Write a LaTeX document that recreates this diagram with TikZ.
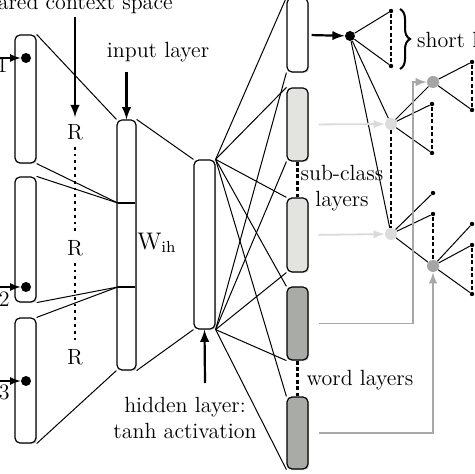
\documentclass[tikz,border=0pt]{standalone}
\usepackage{tikz}
\usetikzlibrary{shapes}
\usetikzlibrary{arrows}
\usetikzlibrary{shadows}
\usetikzlibrary{decorations.pathreplacing}

\definecolor{subgray}{HTML}{E3E4E0}
\definecolor{wordgray}{HTML}{A9ACA6}
\definecolor{lightarrow}{HTML}{DADADA}
\definecolor{midarrow}{HTML}{A8A8A8}
\definecolor{subnode}{HTML}{DCDCDC}
\definecolor{wordnode}{HTML}{A5A5A5}

\begin{document}
\begin{tikzpicture}[x=0.5pt,y=-0.5pt]
	\tikzstyle{every node}=[font=\fontsize{11}{13}\selectfont]
	\tikzstyle{layer}=[draw,fill=white,rectangle,rounded corners=2.5pt,minimum width=10.5pt,inner sep=0pt,line width=0.6pt,drop shadow={shadow xshift=0.6pt,shadow yshift=-0.6pt,opacity=0.3}]
	\tikzstyle{dot}=[circle,fill=black,inner sep=0pt,minimum size=2.2pt]
	\tikzstyle{bigdot}=[circle,fill=black,inner sep=0pt,minimum size=5pt]
	\tikzstyle{conn}=[line width=0.5pt]
	\tikzstyle{arr}=[-latex,line width=1.1pt]
	\tikzstyle{dashline}=[line width=1.1pt,dash pattern=on 2pt off 1.2pt]
	\useasboundingbox (0,0) rectangle (474,474);

	% context layers
	\node[layer,minimum height=64pt] (ctx1) at (25.5,99) {};
	\node[layer,minimum height=62.5pt] (ctx2) at (25.5,239.5) {};
	\node[layer,minimum height=62.5pt] (ctx3) at (25.5,380.5) {};
	\node[bigdot] (cdot1) at (26,58) {};
	\node[bigdot] (cdot2) at (26,287) {};
	\node[bigdot] (cdot3) at (26,381) {};
	\coordinate (cin1) at (-12,58);
	\coordinate (cin2) at (-12,287);
	\coordinate (cin3) at (-12,381);
	\draw[-latex,line width=0.8pt] (cin1) -- (cdot1);
	\draw[-latex,line width=0.8pt] (cin2) -- (cdot2);
	\draw[-latex,line width=0.8pt] (cin3) -- (cdot3);
	\node[anchor=east,inner sep=0pt] (lab1) at (8,65) {1};
	\node[anchor=east,inner sep=0pt] (lab2) at (10,299) {2};
	\node[anchor=east,inner sep=0pt] (lab3) at (10,392) {3};

	% shared context space
	\node (ctxtitle) at (75,4) {shared context space};
	\coordinate (ctxarrow) at (75,17);
	\node (r1) at (75,132) {R};
	\node (r2) at (75,248) {R};
	\node (r3) at (75,357) {R};
	\draw[arr] (ctxarrow) -- (r1.north);
	\draw[dotted,line width=1.4pt] (r1.south) -- (r2.north);
	\draw[dotted,line width=1.4pt] (r2.south) -- (r3.north);

	% input layer
	\node[layer,minimum width=9.5pt,minimum height=125pt] (input) at (126.5,245) {};
	\coordinate (d1w) at (117.75,203);
	\coordinate (d1e) at (135.25,203);
	\coordinate (d2w) at (117.75,287);
	\coordinate (d2e) at (135.25,287);
	\draw[line width=0.6pt] (d1w) -- (d1e);
	\draw[line width=0.6pt] (d2w) -- (d2e);
	\node (inlabel) at (158,52) {input layer};
	\coordinate (inarrow) at (126.5,72);
	\draw[arr] (inarrow) -- (input.north);

	\draw[conn] (ctx1.north east) -- (input.north west);
	\draw[conn] (ctx1.south east) -- (d1w);
	\draw[conn] (ctx2.north east) -- (d1w);
	\draw[conn] (ctx2.south east) -- (d2w);
	\draw[conn] (ctx3.north east) -- (d2w);
	\draw[conn] (ctx3.south east) -- (input.south west);

	% hidden layer
	\node[layer,minimum height=84.5pt] (hidden) at (204.5,244.5) {};
	\draw[conn] (input.north east) -- (hidden.north west);
	\draw[conn] (input.south east) -- (hidden.south west);
	\node[font=\fontsize{12}{14}\selectfont] (wih) at (157,243) {W\textsubscript{ih}};
	\node[align=center] (hidlabel) at (185,418) {hidden layer:\\tanh activation};
	\coordinate (hidarrow) at (205,383);
	\draw[arr] (hidarrow) -- (hidden.south);

	% output layers
	\node[layer,fill=white,minimum height=37pt] (short) at (297.5,35) {};
	\node[layer,fill=subgray,minimum height=36.5pt] (subA) at (297.5,124.5) {};
	\node[layer,fill=subgray,minimum height=37pt] (subB) at (297.5,235) {};
	\node[layer,fill=wordgray,minimum height=36.5pt] (wordA) at (297.5,323.5) {};
	\node[layer,fill=wordgray,minimum height=36pt] (wordB) at (297.5,433) {};
	\foreach \b in {short,subA,subB,wordA,wordB} {
		\draw[conn] (hidden.north east) -- (\b.north west);
		\draw[conn] (hidden.south east) -- (\b.south west);
	}
	\draw[dashline] (subA.south) -- (subB.north);
	\draw[dashline] (wordA.south) -- (wordB.north);
	\node[align=center] (sublabel) at (342,188) {sub-class\\layers};
	\node (wordlabel) at (360,380) {word layers};

	% tree
	\node[bigdot] (root) at (350,36) {};
	\draw[arr,shorten <=1.5pt] (short.east) -- (root);
	\node[dot] (s1) at (391,11) {};
	\node[dot] (s2) at (391,66) {};
	\draw[conn] (root) -- (s1);
	\draw[conn] (root) -- (s2);
	\draw[dashline] (s1) -- (s2);
	\draw[decorate,decoration={brace,amplitude=5pt},line width=1pt] (400,9) -- (400,69);
	\node[anchor=west] (shortlabel) at (410,40) {short list};

	\node[circle,fill=subnode,inner sep=0pt,minimum size=6pt] (n1) at (391,124) {};
	\node[circle,fill=subnode,inner sep=0pt,minimum size=6pt] (n2) at (391,234) {};
	\node[circle,fill=wordnode,inner sep=0pt,minimum size=6pt] (m1) at (433,82) {};
	\node[circle,fill=wordnode,inner sep=0pt,minimum size=6pt] (m2) at (433,266) {};
	\draw[conn] (root) -- (n1);
	\draw[conn] (root) -- (n2);
	\draw[dashline] (n1) -- (n2);

	\node[dot] (t1) at (432,104) {};
	\node[dot] (t2) at (432,153) {};
	\draw[conn] (n1) -- (m1);
	\draw[conn] (n1) -- (t1);
	\draw[conn] (n1) -- (t2);
	\draw[dashline] (t1) -- (t2);

	\node[dot] (u1) at (472,62) {};
	\node[dot] (u2) at (472,110) {};
	\draw[conn] (m1) -- (u1);
	\draw[conn] (m1) -- (u2);
	\draw[dashline] (u1) -- (u2);

	\node[dot] (v1) at (433,193) {};
	\node[dot] (v2) at (433,214) {};
	\draw[conn] (n2) -- (v1);
	\draw[conn] (n2) -- (v2);
	\draw[conn] (n2) -- (m2);
	\draw[dashline] (v2) -- (m2);

	\node[dot] (w1) at (472,224) {};
	\node[dot] (w2) at (472,245) {};
	\node[dot] (w3) at (472,294) {};
	\draw[conn] (m2) -- (w1);
	\draw[conn] (m2) -- (w2);
	\draw[conn] (m2) -- (w3);
	\draw[dashline] (w2) -- (w3);

	% gray feeds
	\draw[-latex,lightarrow,line width=0.9pt,shorten <=5pt] (subA.east) -- (n1);
	\draw[-latex,lightarrow,line width=0.9pt,shorten <=5pt] (subB.east) -- (n2);
	\coordinate (wcorner) at (413,82);
	\draw[-latex,midarrow,line width=0.9pt] ([xshift=5pt]wordA.east) -| (wcorner) -- (m1);
	\draw[-latex,midarrow,line width=0.9pt] ([xshift=5pt]wordB.east) -| (m2);
\end{tikzpicture}
\end{document}
